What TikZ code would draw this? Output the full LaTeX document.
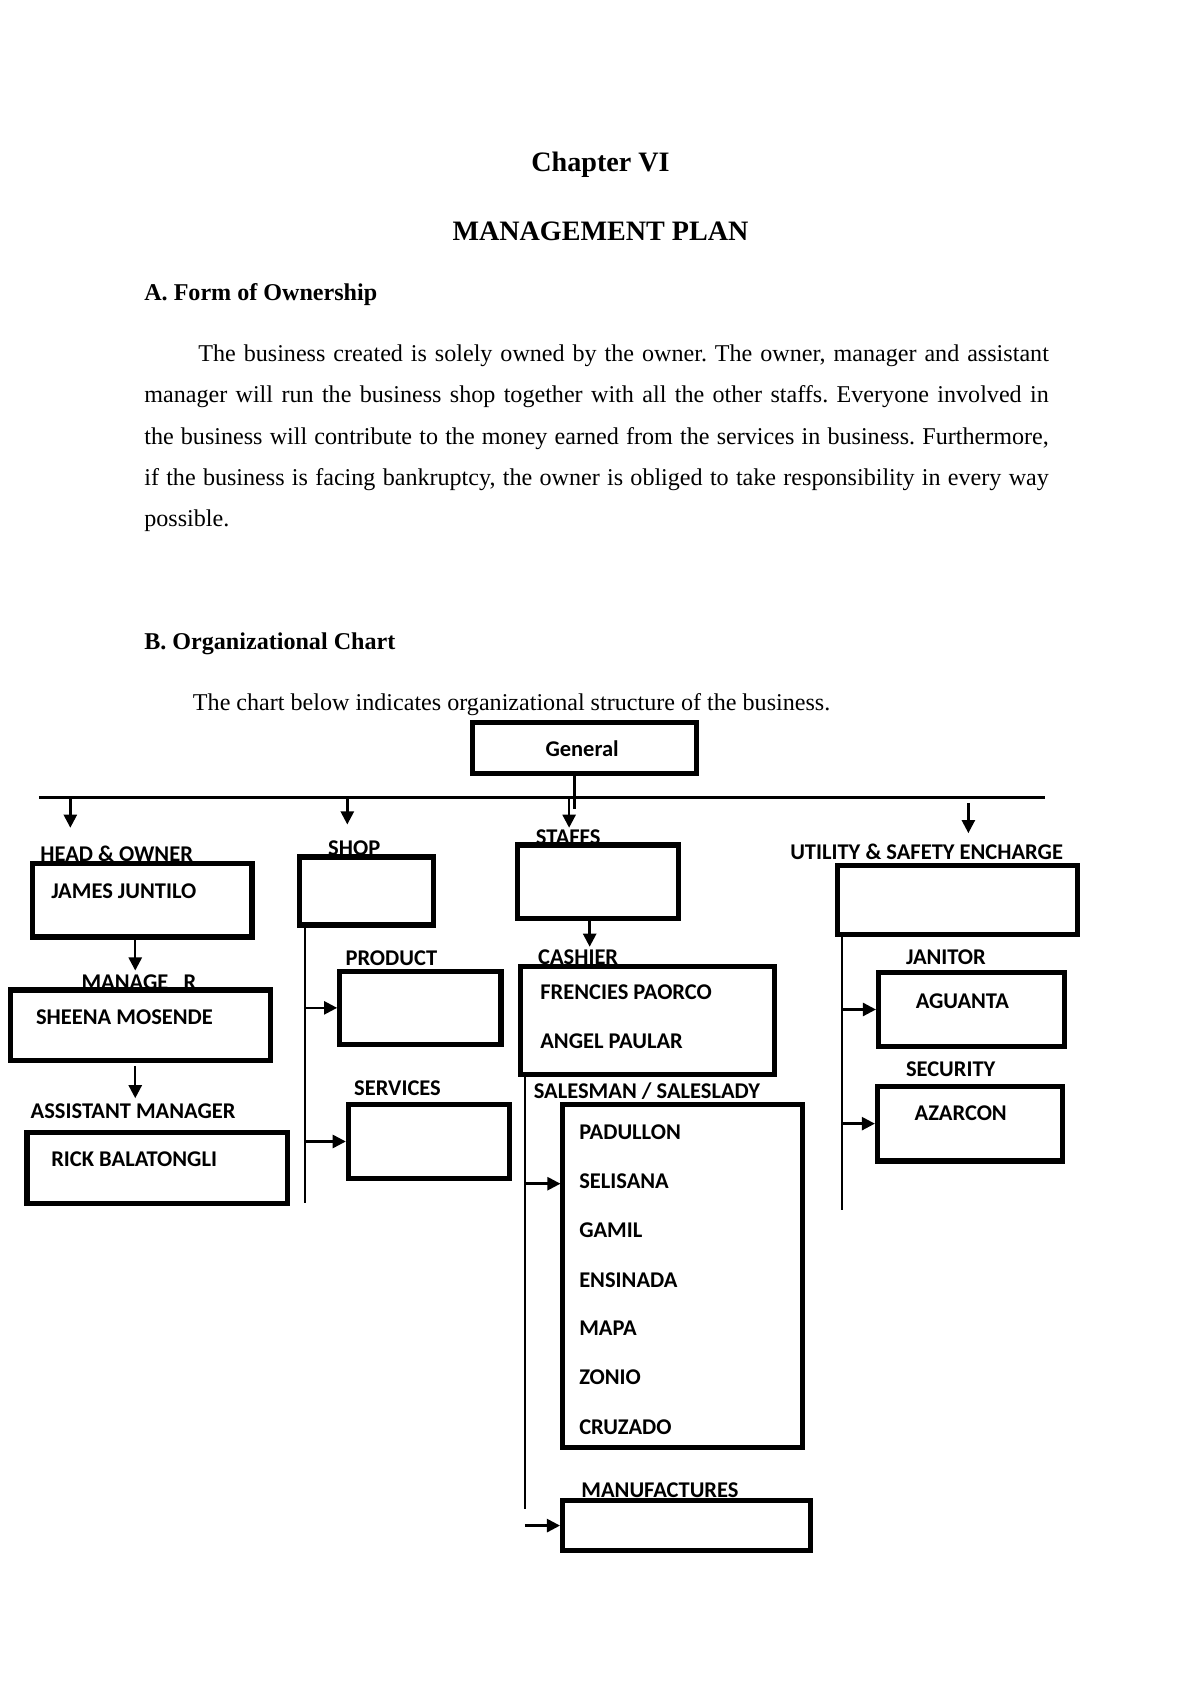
\documentclass[tikz,border=0pt]{standalone}
\usepackage{fontspec}
\setmainfont{Liberation Serif}
\newfontfamily\chartfont{Carlito}
\usetikzlibrary{arrows.meta,fit}
\frenchspacing
\tikzset{
  box/.style={draw,line width=2.6pt,inner sep=0pt},
  lbl/.style={anchor=west,inner sep=0pt,font=\chartfont\bfseries\fontsize{11.2}{13}\selectfont},
  txt/.style={anchor=west,inner sep=0pt,font=\fontsize{12}{14}\selectfont},
  head/.style={inner sep=0pt,font=\bfseries\fontsize{14}{16}\selectfont},
  link/.style={line width=1.2pt},
  arr/.style={line width=1.2pt,-{Triangle[width=6.5pt,length=6.5pt]}}
}
\begin{document}
\begin{tikzpicture}[x=0.018936cm,y=-0.018936cm]
\useasboundingbox (0,0) rectangle (1109,1567.5);
% page text
\node[head] (chap) at (555,152) {Chapter VI};
\node[head] (plan) at (555,214) {MANAGEMENT PLAN};
\node[txt,font=\bfseries\fontsize{12}{14}\selectfont] (secA) at (133,272) {A. Form of Ownership};
\node[txt] (lineA) at (183,329) {\hbox to 423.5pt{The business created is solely owned by the owner. The owner, manager and assistant}};
\node[txt] (lineB) at (133,367) {\hbox to 450.4pt{manager will run the business shop together with all the other staffs. Everyone involved in}};
\node[txt] (lineC) at (133,405) {\hbox to 450.4pt{the business will contribute to the money earned from the services in business. Furthermore,}};
\node[txt] (lineD) at (133,443) {\hbox to 450.4pt{if the business is facing bankruptcy, the owner is obliged to take responsibility in every way}};
\node[txt] (lineE) at (133,481) {possible.};
\node[txt,font=\bfseries\fontsize{12}{14}\selectfont] (secB) at (133,595) {B. Organizational Chart};
\node[txt] (intro) at (178,651) {The chart below indicates organizational structure of the business.};

% boxes
\node[box,fit={(437,668) (644,715)}] (general) {};
\node[box,fit={(30,798) (233,866)}] (owner) {};
\node[box,fit={(10,915) (250,980)}] (manager) {};
\node[box,fit={(25,1047) (266,1112)}] (asst) {};
\node[box,fit={(277,792) (401,855)}] (shop) {};
\node[box,fit={(314,898) (463,965)}] (product) {};
\node[box,fit={(322,1021) (471,1089)}] (services) {};
\node[box,fit={(478,781) (627,849)}] (staffs) {};
\node[box,fit={(481,893) (716,993)}] (cashier) {};
\node[box,fit={(520,1021) (742,1338)}] (sales) {};
\node[box,fit={(520,1387) (749,1433)}] (manuf) {};
\node[box,fit={(774,800) (996,864)}] (utility) {};
\node[box,fit={(812,899) (984,967)}] (janitor) {};
\node[box,fit={(811,1004) (982,1073)}] (security) {};

% labels and names
\node[lbl,anchor=center] (generalt) at (538,692) {General};
\node[lbl] (ownerl) at (37,789) {HEAD \& OWNER};
\node[lbl] (ownern) at (47,824) {JAMES JUNTILO};
\node[lbl] (managerl) at (75,908) {MANAGE\ \ \ R};
\node[lbl] (managern) at (33,940) {SHEENA MOSENDE};
\node[lbl] (asstl) at (28,1027) {ASSISTANT MANAGER};
\node[lbl] (asstn) at (47,1071) {RICK BALATONGLI};
\node[lbl] (shopl) at (303,784) {SHOP};
\node[lbl] (productl) at (319,886) {PRODUCT};
\node[lbl] (servicesl) at (327,1006) {SERVICES};
\node[lbl] (staffsl) at (495,774) {STAFFS};
\node[lbl] (cashierl) at (497,885) {CASHIER};
\node[lbl] (cashA) at (499,917) {FRENCIES PAORCO};
\node[lbl] (cashB) at (499,962) {ANGEL PAULAR};
\node[lbl] (salesl) at (493,1008) {SALESMAN / SALESLADY};
\node[lbl] (salesA) at (535,1046) {PADULLON};
\node[lbl] (salesB) at (535,1092) {SELISANA};
\node[lbl] (salesC) at (535,1137) {GAMIL};
\node[lbl] (salesD) at (535,1183) {ENSINADA};
\node[lbl] (salesE) at (535,1228) {MAPA};
\node[lbl] (salesF) at (535,1273) {ZONIO};
\node[lbl] (salesG) at (535,1319) {CRUZADO};
\node[lbl] (manufl) at (537,1377) {MANUFACTURES};
\node[lbl] (utilityl) at (730,787) {UTILITY \& SAFETY ENCHARGE};
\node[lbl] (janitorl) at (837,885) {JANITOR};
\node[lbl] (janitorn) at (846,925) {AGUANTA};
\node[lbl] (securityl) at (837,988) {SECURITY};
\node[lbl] (securityn) at (845,1029) {AZARCON};

% free ends
\coordinate (stemB) at (531,748);
\coordinate (barL) at (36,737);
\coordinate (barR) at (966,737);
\coordinate (ownerA) at (65,765);
\coordinate (shopA) at (321,762);
\coordinate (staffsA) at (526,765);
\coordinate (utilityS) at (895,742);
\coordinate (utilityA) at (895,770);
\coordinate (managerA) at (125,897);
\coordinate (asstS) at (125,985);
\coordinate (asstA) at (125,1015);
\coordinate (cashierA) at (545,875);
\coordinate (shopEnd) at (282,1112);
\coordinate (staffEnd) at (485,1395);
\coordinate (salesIn) at (518,1094);
\coordinate (utilityEnd) at (778,1118);

% connectors
\draw[link] (general.south -| stemB) -- (stemB);
\draw[link] (barL) -- (barR);
\draw[arr] (barL -| ownerA) -- (ownerA);
\draw[arr] (barL -| shopA) -- (shopA);
\draw[arr] (barL -| staffsA) -- (staffsA);
\draw[arr] (utilityS) -- (utilityA);
\draw[arr] (owner.south -| managerA) -- (managerA);
\draw[arr] (asstS) -- (asstA);
\draw[arr] (staffs.south -| cashierA) -- (cashierA);
\draw[link] (shop.south -| shopEnd) -- (shopEnd);
\draw[arr] (shopEnd |- product.west) -- (product.west);
\draw[arr] (shopEnd |- services.west) -- (services.west);
\draw[link] (cashier.south -| staffEnd) -- (staffEnd);
\draw[arr] (staffEnd |- salesIn) -- (salesIn);
\draw[arr] (staffEnd |- manuf.west) -- (manuf.west);
\draw[link] (utility.south -| utilityEnd) -- (utilityEnd);
\draw[arr] (utilityEnd |- janitor.west) -- (janitor.west);
\draw[arr] (utilityEnd |- security.west) -- (security.west);
\end{tikzpicture}
\end{document}
